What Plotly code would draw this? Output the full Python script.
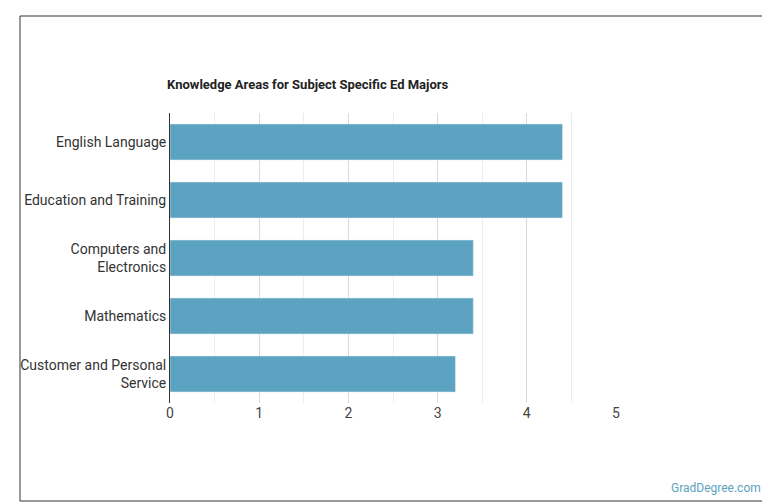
import plotly.graph_objects as go

categories = ["English Language", "Education and Training", "Computers and<br>Electronics", "Mathematics", "Customer and Personal<br>Service"]
values = [4.4, 4.4, 3.4, 3.4, 3.2]
tick_vals = [0, 1, 2, 3, 4, 5]

fig = go.Figure(go.Bar(x=values, y=categories, orientation="h", marker_color="#5ba3c0", width=0.62,
                       hoverinfo="x+y"))
fig.update_layout(
    width=770, height=503, paper_bgcolor="white", plot_bgcolor="white",
    margin=dict(l=159, r=162, t=105, b=108),
    font=dict(family="Roboto", size=14, color="#333"),
    showlegend=False,
    title=dict(text="<b>Knowledge Areas for Subject Specific Ed Majors</b>", x=159/770, xanchor="left",
               y=1-76/503, yanchor="middle", font=dict(size=13, color="#222")),
    xaxis=dict(range=[0, 5], tickvals=tick_vals, showgrid=True, gridcolor="#d9d9d9",
               minor=dict(dtick=0.5, showgrid=True, gridcolor="#ececec"), zeroline=False,
               ticks="", tickfont=dict(size=14, color="#444")),
    yaxis=dict(autorange="reversed", showline=True, linecolor="#333", linewidth=1,
               ticks="", tickfont=dict(size=14, color="#333")),
    shapes=[dict(type="rect", xref="paper", yref="paper", x0=-151/449, x1=(762-159)/449,
                 y0=-(493-395)/290, y1=1+(105-8)/290, line=dict(color="#333", width=1))],
    annotations=[dict(text="GradDegree.com", xref="paper", yref="paper", x=(756-159)/449, y=-(480-395)/290,
                      xanchor="right", yanchor="middle", showarrow=False,
                      font=dict(size=12, color="#5ba3c0"))],
)
fig.write_html("out.html")
